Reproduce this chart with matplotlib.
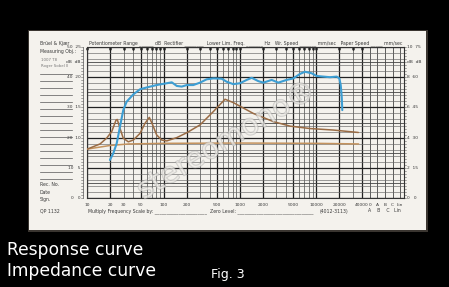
import numpy as np
import matplotlib
matplotlib.use("Agg")
import matplotlib.pyplot as plt
import matplotlib.patheffects as pe
from matplotlib.patches import Rectangle

# ---------------- data ----------------
resp_freq = [19.8, 21.9, 24.3, 26.8, 29.6, 32.8, 40.1, 49.1, 60, 81, 110, 128, 149, 173,
             201, 245, 300, 367, 448, 577, 671, 819, 1002, 1227, 1428, 1742, 2028, 2611,
             3185, 4100, 5012, 6137, 7130, 8730, 10140, 15170, 18570, 20100, 20960, 21600, 21980]
resp_db = [12.6, 14.8, 18.1, 23.6, 29.1, 31.9, 34.3, 36.0, 36.6, 37.4, 38.0, 38.3, 37.1, 36.9,
           37.4, 37.4, 38.2, 39.3, 39.6, 39.5, 38.5, 37.7, 38.0, 39.1, 39.8, 38.7, 38.2, 39.1,
           38.2, 39.1, 39.6, 41.1, 41.8, 41.3, 40.4, 40.0, 40.2, 39.6, 37.4, 33.5, 29.1]

imp_freq = [10, 14.7, 17.9, 20.9, 23.8, 24.7, 26.8, 29.6, 34.5, 40.1, 49.1, 57, 65, 71.9, 81,
            94.4, 110, 149, 201, 300, 448, 638, 819, 1499, 2742, 4538, 8300, 16750, 35650]
imp_db = [16.2, 17.9, 19.8, 22.0, 25.8, 26.0, 23.1, 19.8, 18.6, 19.2, 21.4, 24.7, 26.7, 24.2, 20.9,
          19.2, 18.9, 20.0, 21.6, 24.2, 28.6, 32.7, 31.6, 28.0, 25.3, 23.8, 23.0, 22.5, 21.7]

ref_freq = [10, 20, 35, 100, 1000, 10000, 36000]
ref_db = [16.2, 17.4, 17.9, 18.1, 18.2, 18.1, 17.9]

freq_ticks = [10, 20, 30, 50, 100, 200, 500, 1000, 2000, 5000, 10000, 20000, 40000]
freq_tick_labels = ["10", "20", "30", "50", "100", "200", "500", "1000", "2000", "5000",
                    "10000", "20000", "40000"]
left_levels = [50, 40, 30, 20, 10, 0]
left_labels = ["50  25", "40  20", "30  15", "20  10", "10   5", "0   0"]
right_labels = ["10  75", "8  60", "6  45", "4  30", "2  15", "0   0"]
filter_labels = ["0", "A", "B", "C", "Lin"]

# ---------------- figure ----------------
W, H = 449, 287
fig = plt.figure(figsize=(W / 100, H / 100), dpi=100, facecolor="black")

bg = fig.add_axes([0, 0, 1, 1], zorder=0)
bg.set_xlim(0, W)
bg.set_ylim(H, 0)
bg.axis("off")
bg.set_facecolor("black")

paper = "#f4f2ed"
bg.add_patch(Rectangle((27.5, 29.5), 400, 202, facecolor="#3a3530", edgecolor="none"))
bg.add_patch(Rectangle((29, 31), 397, 199, facecolor=paper, edgecolor="none"))

tc = "#3a3a3a"
fs = 3.3
# header
bg.text(40, 43, "Brüel & Kjær", fontsize=fs, color=tc, va="center")
bg.text(89, 43, "Potentiometer Range ______ dB  Rectifier ________  Lower Lim. Freq. _______ Hz"
        "   Wr. Speed _______ mm/sec   Paper Speed _____ mm/sec",
        fontsize=fs, color=tc, va="center")
bg.text(40, 52, "Measuring Obj.:", fontsize=fs, color=tc, va="center")
bg.text(41, 60, "1007 T8", fontsize=2.8, color="#777", va="center")
bg.text(41, 66, "Roger Sobel II", fontsize=2.8, color="#777", va="center")
for yy in range(74, 182, 7):
    bg.plot([40, 72], [yy, yy], color="#555", lw=0.5)
bg.text(40, 185, "Rec. No.", fontsize=fs, color=tc, va="center")
bg.text(40, 192, "Date", fontsize=fs, color=tc, va="center")
bg.text(40, 199, "Sign.", fontsize=fs, color=tc, va="center")
bg.text(40, 211, "QP 1132", fontsize=fs, color=tc, va="center")
bg.text(88, 211, "Multiply Frequency Scale by: ______________________", fontsize=fs, color=tc, va="center")
bg.text(210, 211, "Zero Level: ________________________________", fontsize=fs, color=tc, va="center")
bg.text(320, 211, "(4012-3113)", fontsize=fs, color=tc, va="center")
bg.text(368, 211, "A    B    C   Lin", fontsize=fs, color=tc, va="center")

# left scale line
bg.plot([83, 83], [47, 198], color="#555", lw=0.5)
for yy in np.arange(47, 199, 3.02):
    bg.plot([81, 83], [yy, yy], color="#666", lw=0.4)
for lv, lab in zip(left_levels, left_labels):
    y = 198 - lv * 3.02
    bg.text(81, y, lab, fontsize=3.2, color=tc, va="center", ha="right")
bg.text(81, 62, "dB  dB", fontsize=3.2, color=tc, va="center", ha="right")
# right scale
for yy in np.arange(47, 199, 3.02):
    bg.plot([404, 406], [yy, yy], color="#666", lw=0.4)
for lv, lab in zip(left_levels, right_labels):
    y = 198 - lv * 3.02
    bg.text(407, y, lab, fontsize=3.2, color=tc, va="center", ha="left")
bg.text(407, 62, "dB  dB", fontsize=3.2, color=tc, va="center", ha="left")

# captions
bg.text(7, 255, "Response curve", fontsize=12.3, color="white", va="baseline", ha="left")
bg.text(7, 276, "Impedance curve", fontsize=12.3, color="white", va="baseline", ha="left")
bg.text(211, 278, "Fig. 3", fontsize=9, color="white", va="baseline", ha="left")

# ---------------- chart axes ----------------
x0, x1, y0, y1 = 87.3, 404, 47, 198
ax = fig.add_axes([x0 / W, 1 - y1 / H, (x1 - x0) / W, (y1 - y0) / H], zorder=1)
ax.set_facecolor(paper)
fmax = 10 ** (1 + (x1 - x0) / 76.3)
ax.set_xscale("log")
ax.set_xlim(10, fmax)
ax.set_ylim(0, 50)

# vertical grid
for n in range(1, 5):
    for k in range(1, 10):
        f = k * 10 ** n
        if f > 40000:
            break
        heavy = k in (1, 2, 5)
        ax.axvline(f, color="#1e1e1e" if heavy else "#4a4a4a", lw=0.9 if heavy else 0.5, zorder=1)
ax.axvline(40000, color="#222", lw=0.9, zorder=1)
# filter columns
fx = np.log10(40000 / 10) / np.log10(fmax / 10)
for i in range(1, 6):
    ax.axvline(10 ** (1 + (fx + i * (1 - fx) / 5.5) * np.log10(fmax / 10)), color="#444", lw=0.6, zorder=1)
# horizontal grid
for lv in range(0, 51, 2):
    ax.axhline(lv, color="#666", lw=0.45, zorder=1)
for lv in range(0, 51, 10):
    ax.axhline(lv, color="#222", lw=0.9, zorder=1)
for lv in (5, 15, 25, 35, 45):
    ax.axhline(lv, color="#444", lw=0.6, zorder=1)

# top marker ticks
for n in range(1, 5):
    for k in range(1, 10):
        f = k * 10 ** n
        if f > 40000:
            break
        ax.plot(f, 49.2, marker="v", ms=1.2, color="#222", zorder=2, clip_on=False)

ax.set_xticks([])
ax.set_yticks([])
ax.minorticks_off()
for s in ax.spines.values():
    s.set_color("#333")
    s.set_linewidth(0.8)

# frequency labels
for f, lab in zip(freq_ticks, freq_tick_labels):
    ax.text(f, -1.6, lab, fontsize=3.2, color=tc, ha="center", va="top")
for i, lab in enumerate(filter_labels):
    xf = 10 ** (1 + (fx + (i + 1.0) * (1 - fx) / 5.5) * np.log10(fmax / 10))
    ax.text(xf, -1.6, lab, fontsize=3.2, color=tc, ha="center", va="top")

# curves
ax.plot(ref_freq, ref_db, color="#c4935e", lw=1.1, zorder=3, solid_capstyle="round")
ax.plot(imp_freq, imp_db, color="#9a6c45", lw=1.1, zorder=4, solid_capstyle="round")
ax.plot(resp_freq, resp_db, color="#3d9ed3", lw=1.5, zorder=5, solid_capstyle="round")

# watermark
ax.text(0.44, 0.38, "stereomono®", transform=ax.transAxes, fontsize=21, rotation=31,
        ha="center", va="center", color=paper, alpha=0.45, zorder=6,
        path_effects=[pe.Stroke(linewidth=1.0, foreground="#a0a0a0"), pe.Normal()])

fig.savefig("out.png", dpi=100, facecolor="black")
